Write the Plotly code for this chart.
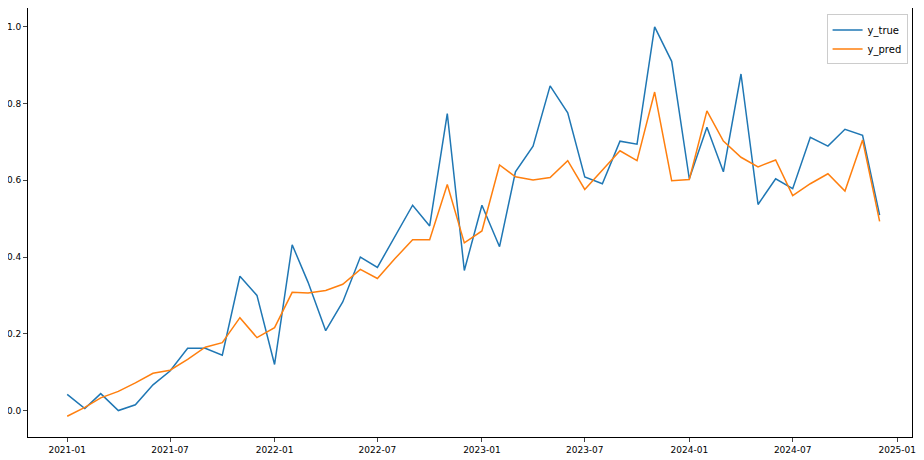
import pandas as pd
import plotly.graph_objects as go

dates = pd.date_range('2021-01-01', periods=48, freq='MS')

y_true = [0.042, 0.005, 0.044, 0.0, 0.015, 0.067, 0.103, 0.162, 0.162, 0.144, 0.35, 0.30,
          0.12, 0.432, 0.334, 0.208, 0.283, 0.40, 0.373, 0.453, 0.535, 0.481, 0.774, 0.365,
          0.535, 0.427, 0.622, 0.689, 0.846, 0.776, 0.609, 0.591, 0.702, 0.694, 1.0, 0.91,
          0.604, 0.738, 0.622, 0.877, 0.537, 0.604, 0.578, 0.712, 0.689, 0.733, 0.717, 0.509]

y_pred = [-0.015, 0.008, 0.033, 0.05, 0.072, 0.097, 0.105, 0.133, 0.165, 0.177, 0.242, 0.19,
          0.216, 0.308, 0.306, 0.313, 0.329, 0.368, 0.344, 0.396, 0.445, 0.445, 0.589, 0.437,
          0.468, 0.64, 0.609, 0.601, 0.607, 0.651, 0.576, 0.627, 0.677, 0.651, 0.83, 0.599,
          0.602, 0.781, 0.702, 0.66, 0.635, 0.653, 0.56, 0.591, 0.617, 0.572, 0.705, 0.493]

tick_vals = pd.date_range('2021-01-01', '2025-01-01', freq='6MS')
tick_text = [d.strftime('%Y-%m') for d in tick_vals]

fig = go.Figure()
fig.add_trace(go.Scatter(x=dates, y=y_true, mode='lines', name='y_true',
                         line=dict(color='#1f77b4', width=1.5)))
fig.add_trace(go.Scatter(x=dates, y=y_pred, mode='lines', name='y_pred',
                         line=dict(color='#ff7f0e', width=1.5)))

axis_style = dict(showgrid=False, zeroline=False, showline=True, linecolor='black',
                  linewidth=1, mirror=True, ticks='outside', ticklen=4,
                  tickfont=dict(family='DejaVu Sans', size=9, color='black'))

# page body adds an 8px offset, so the figure is a bit smaller than the window
fig.update_layout(
    width=916, height=452,
    margin=dict(l=20, r=12, t=0, b=23),
    plot_bgcolor='white', paper_bgcolor='white',
    xaxis=dict(range=['2020-10-24', '2025-01-27'], tickvals=tick_vals, ticktext=tick_text, **axis_style),
    yaxis=dict(range=[-0.069, 1.049], tickvals=[0, 0.2, 0.4, 0.6, 0.8, 1.0],
               tickformat='.1f', **axis_style),
    legend=dict(x=0.995, y=0.985, xanchor='right', yanchor='top',
                bgcolor='rgba(255,255,255,0.8)', bordercolor='#cccccc', borderwidth=1,
                font=dict(family='DejaVu Sans', size=10, color='black')),
)

fig.write_html("out.html")
